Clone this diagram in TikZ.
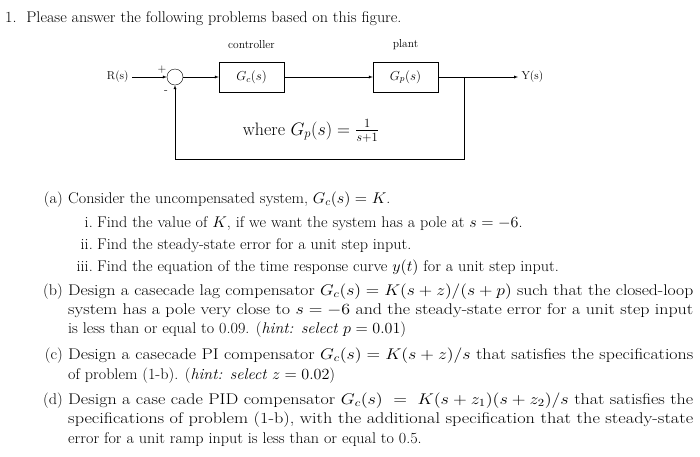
\documentclass[tikz,border=0pt]{standalone}
\usepackage{fix-cm}
\usepackage{fontspec}
\usepackage{graphicx}
\newcommand{\xs}{1.04}
\newcommand{\nl}[1]{\scalebox{\xs}[1]{#1}}
\newcommand{\jl}[2]{\resizebox{#1pt}{\height}{#2}}
\begin{document}
\begin{tikzpicture}[x=1pt,y=-1pt,
  blk/.style={draw,minimum width=65pt,minimum height=30pt,inner sep=0pt,font=\fontsize{13}{15}\selectfont},
  lab/.style={font=\fontsize{11.5}{13}\selectfont},
  ln/.style={anchor=base west,inner sep=0pt,font=\fontsize{15.5}{17}\selectfont},
  lnr/.style={anchor=base east,inner sep=0pt,font=\fontsize{15.5}{17}\selectfont},
  sig/.style={-latex}]
\useasboundingbox (0,0) rectangle (700,456);
\node[ln] (t) at (5,22) {\nl{1.\ \ Please answer the following problems based on this figure.}};
% diagram
\node[draw,circle,minimum size=16pt,inner sep=0pt] (sum) at (175,77) {};
\node[blk] (gc) at (251.5,77) {$G_c(s)$};
\node[blk] (gp) at (405.5,77) {$G_p(s)$};
\node[lab] (ctl) at (251.5,45) {controller};
\node[lab] (pl) at (405.5,45) {plant};
\node[lab,anchor=east] (r) at (132,77) {R(s)};
\node[lab,anchor=west] (y) at (518,77) {Y(s)};
\node[lab] (plus) at (162,70) {+};
\node[lab] (minus) at (166,92) {-};
\coordinate (j) at (464,77);
\coordinate (fb) at (464,159);
\coordinate (fb2) at (175,159);
\draw[sig] (r) -- (sum);
\draw[sig] (sum) -- (gc);
\draw[sig] (gc) -- (gp);
\draw[sig] (gp) -- (y);
\draw[sig] (j) -- (fb) -- (fb2) -- (sum);
\node[font=\fontsize{18}{20}\selectfont] (wh) at (311,131) {where $G_p(s)=\frac{1}{s+1}$};
% text
\node[lnr] (a) at (63,203) {\nl{(a)}};
\node[ln] (a1) at (68,203) {\nl{Consider the uncompensated system, $G_c(s)=K$.}};
\node[lnr] (i) at (93,227) {\nl{i.}};
\node[ln] (i1) at (97,227) {\nl{Find the value of $K$, if we want the system has a pole at $s=-6$.}};
\node[lnr] (ii) at (93,249) {\nl{ii.}};
\node[ln] (ii1) at (97,249) {\nl{Find the steady-state error for a unit step input.}};
\node[lnr] (iii) at (93,271) {\nl{iii.}};
\node[ln] (iii1) at (97,271) {\nl{Find the equation of the time response curve $y(t)$ for a unit step input.}};
\node[lnr] (b) at (63,295) {\nl{(b)}};
\node[ln] (b1) at (68,295) {\jl{625}{Design a casecade lag compensator $G_c(s)=K(s+z)/(s+p)$ such that the closed-loop}};
\node[ln] (b2) at (68,314) {\jl{625}{system has a pole very close to $s=-6$ and the steady-state error for a unit step input}};
\node[ln] (b3) at (68,333) {\nl{is less than or equal to 0.09. (\textit{hint: select} $p=0.01$)}};
\node[lnr] (c) at (63,359) {\nl{(c)}};
\node[ln] (c1) at (68,359) {\jl{625}{Design a casecade PI compensator $G_c(s)=K(s+z)/s$ that satisfies the specifications}};
\node[ln] (c2) at (68,379) {\nl{of problem (1-b). (\textit{hint: select} $z=0.02$)}};
\node[lnr] (d) at (63,404) {\nl{(d)}};
\node[ln] (d1) at (68,404) {\jl{625}{Design a case cade PID compensator $G_c(s)\ =\ K(s+z_1)(s+z_2)/s$ that satisfies the}};
\node[ln] (d2) at (68,423) {\jl{625}{specifications of problem (1-b), with the additional specification that the steady-state}};
\node[ln] (d3) at (68,443) {\nl{error for a unit ramp input is less than or equal to 0.5.}};
\end{tikzpicture}
\end{document}
